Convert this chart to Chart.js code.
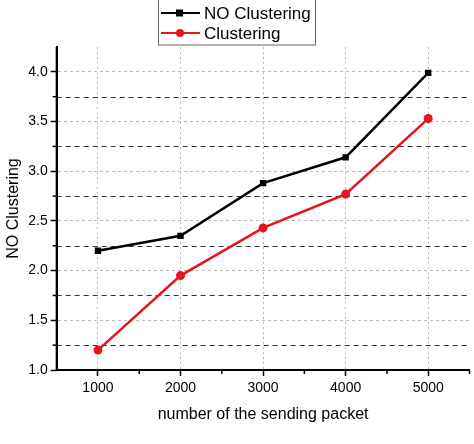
<!DOCTYPE html><html><head><script src="https://cdn.jsdelivr.net/npm/chart.js@4"></script>
<style>body{margin:0;background:#fff}#w{width:474px;height:444px}</style></head><body><div id="w"><canvas id="c"></canvas></div>
<script>
const packets=[1000,2000,3000,4000,5000];
const noClustering=[2.2,2.35,2.88,3.14,3.99];
const clustering=[1.2,1.95,2.43,2.77,3.53];
const yTicks=[1.0,1.5,2.0,2.5,3.0,3.5,4.0];
const yMinor=[1.25,1.75,2.25,2.75,3.25,3.75];
const xMinor=[1500,2500,3500,4500,5500];
const F='"Liberation Sans", Arial, sans-serif';
const extra={id:'extra',
 beforeDatasetsDraw(ch){const c=ch.ctx,a=ch.chartArea,y=ch.scales.y,x=ch.scales.x;c.save();
  c.strokeStyle='#333';c.lineWidth=1;c.setLineDash([5,4]);
  yMinor.forEach(v=>{const p=Math.round(y.getPixelForValue(v))+0.5;c.beginPath();c.moveTo(a.left,p);c.lineTo(a.right,p);c.stroke();});
  c.setLineDash([]);c.strokeStyle='#000';c.lineWidth=1.5;
  yMinor.forEach(v=>{const p=y.getPixelForValue(v);c.beginPath();c.moveTo(a.left-4,p);c.lineTo(a.left,p);c.stroke();});
  xMinor.forEach(v=>{const p=x.getPixelForValue(v);c.beginPath();c.moveTo(p,a.bottom);c.lineTo(p,a.bottom+4);c.stroke();});
  c.lineWidth=2;c.beginPath();c.moveTo(a.left,a.top);c.lineTo(a.left,a.bottom);c.lineTo(a.right,a.bottom);c.stroke();
  c.restore();},
 afterDraw(ch){const c=ch.ctx;c.save();const L=158,T=0,W=157,H=46;
  c.fillStyle='#fff';c.fillRect(L,T,W,H);c.strokeStyle='#666';c.lineWidth=1;c.strokeRect(L+0.5,T-1,W,H);
  ch.data.datasets.forEach((d,i)=>{const yy=T+13+i*20;c.strokeStyle=d.borderColor;c.lineWidth=2;c.beginPath();c.moveTo(L+3,yy);c.lineTo(L+42,yy);c.stroke();
   c.fillStyle=d.borderColor;if(i==0){c.fillRect(L+18,yy-3.5,7,7);}else{c.beginPath();c.arc(L+22,yy,4,0,7);c.fill();}
   c.fillStyle='#000';c.font='17px '+F;c.textBaseline='middle';c.fillText(d.label,L+46,yy+1);});
  c.restore();}};
new Chart(document.getElementById('c'),{type:'line',
 data:{datasets:[
  {label:'NO Clustering',data:packets.map((p,i)=>({x:p,y:noClustering[i]})),borderColor:'#000',backgroundColor:'#000',pointStyle:'rect',pointRadius:4.5,borderWidth:2.5,pointBorderWidth:0},
  {label:'Clustering',data:packets.map((p,i)=>({x:p,y:clustering[i]})),borderColor:'#e8141c',backgroundColor:'#e8141c',pointStyle:'circle',pointRadius:4.5,borderWidth:2.5,pointBorderWidth:0}]},
 options:{animation:false,responsive:true,maintainAspectRatio:false,layout:{padding:{top:47,right:2,bottom:16}},
  plugins:{legend:{display:false},tooltip:{enabled:false}},
  scales:{
   x:{type:'linear',min:500,max:5500,afterBuildTicks:s=>{s.ticks=packets.map(v=>({value:v}))},
    ticks:{color:'#000',font:{size:14,family:F},padding:4,callback:v=>String(v)},
    grid:{color:'#bbb',tickColor:'#000',tickLength:6,tickWidth:1.5},border:{color:'#000',width:2,dash:[2,3]},
    title:{display:true,text:'number of the sending packet',color:'#000',font:{size:16,family:F},padding:{top:4}}},
   y:{min:1,max:4.25,afterBuildTicks:s=>{s.ticks=yTicks.map(v=>({value:v}))},
    ticks:{color:'#000',font:{size:14,family:F},padding:3,callback:v=>v.toFixed(1)},
    grid:{color:'#bbb',tickColor:'#000',tickLength:6,tickWidth:1.5},border:{color:'#000',width:2,dash:[3,3]},
    title:{display:true,text:'NO Clustering',color:'#000',font:{size:16,family:F},padding:{bottom:2}}}}},
 plugins:[extra]});
</script></body></html>
